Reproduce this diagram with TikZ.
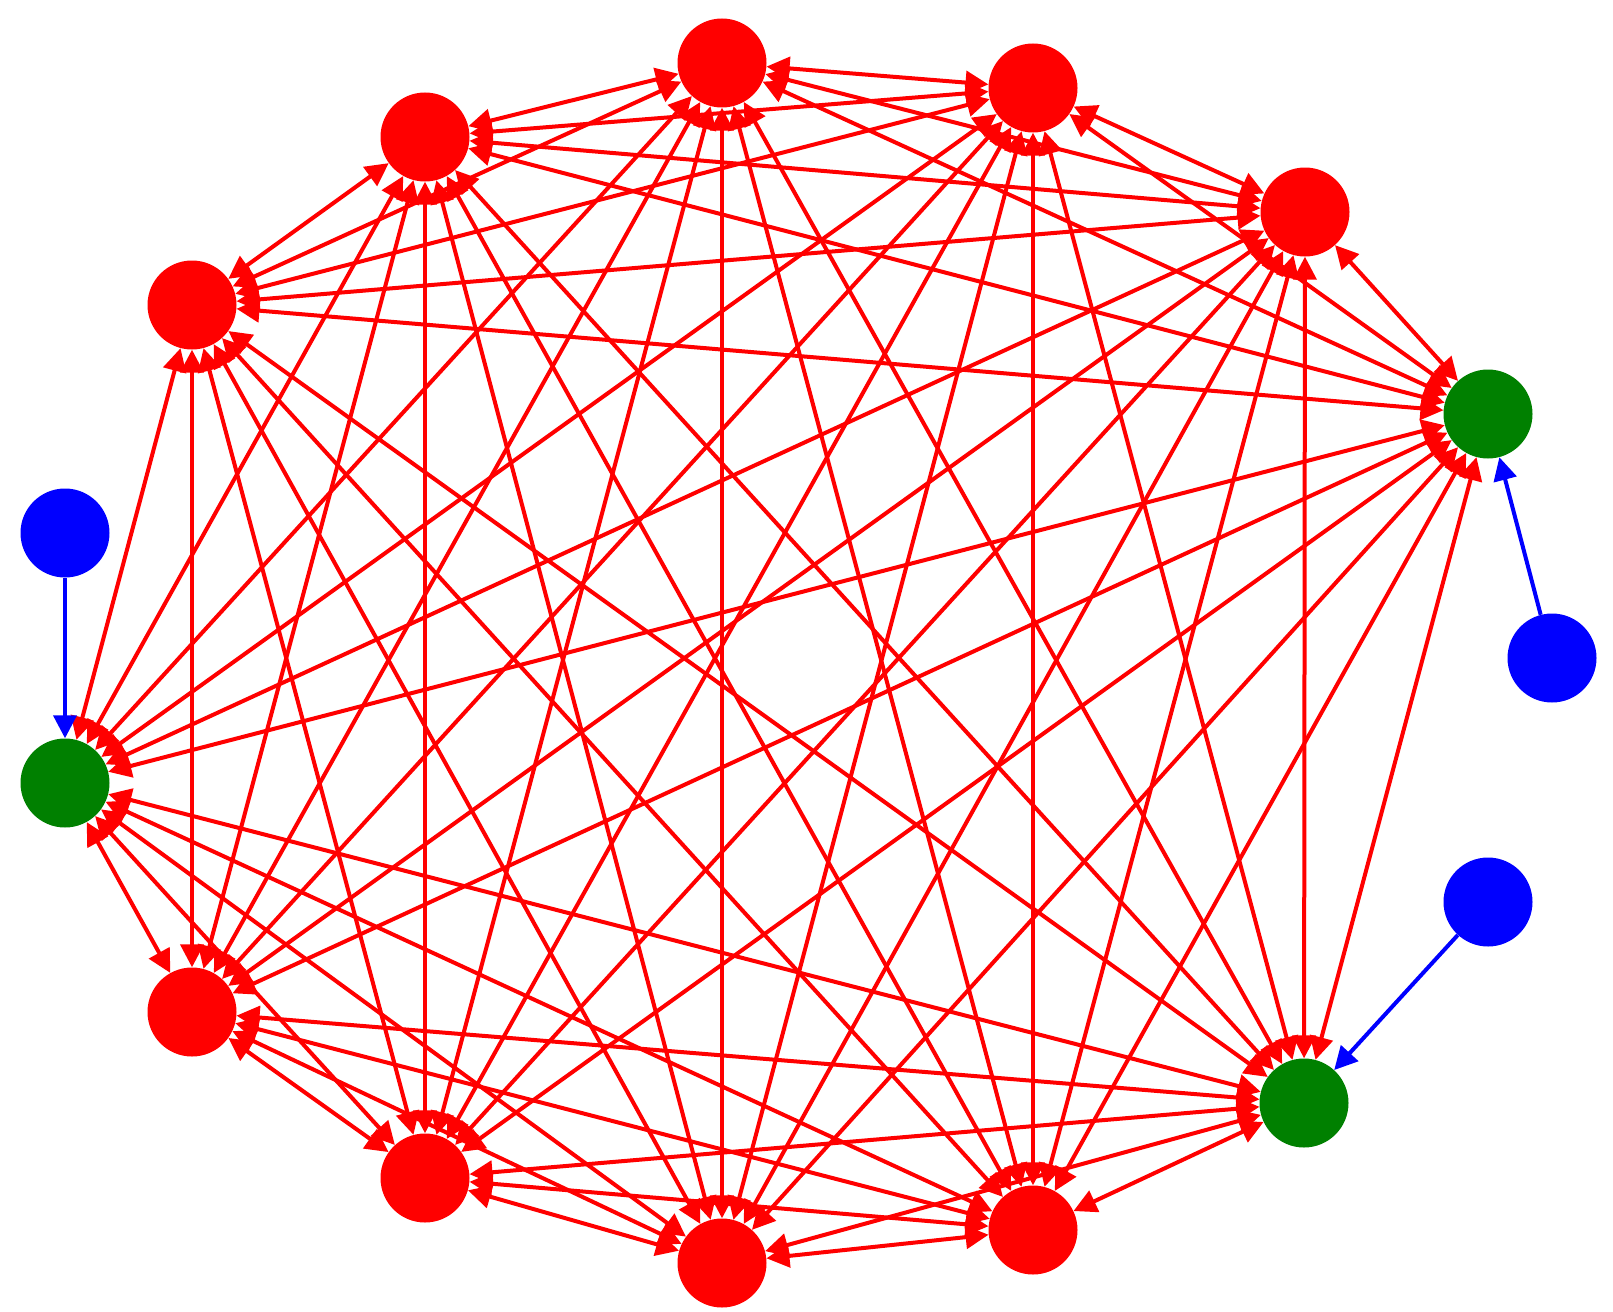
\documentclass[tikz,border=0pt]{standalone}
\usetikzlibrary{arrows.meta}
\pgfdeclarelayer{bg}
\pgfsetlayers{bg,main}
\definecolor{gnode}{RGB}{0,128,0}
\definecolor{rnode}{RGB}{255,0,0}
\definecolor{bnode}{RGB}{0,0,255}
\begin{document}
\begin{tikzpicture}[x=1pt,y=-1pt,
  vert/.style={circle,inner sep=0pt,minimum size=89pt,draw=none},
  rv/.style={vert,fill=rnode},
  gv/.style={vert,fill=gnode},
  bv/.style={vert,fill=bnode},
  redge/.style={draw=rnode,line width=4pt,{Triangle[length=23pt,width=23pt]}-{Triangle[length=23pt,width=23pt]}},
  bedge/.style={draw=bnode,line width=4pt,-{Triangle[length=23pt,width=23pt]}}]
\useasboundingbox (0,0) rectangle (1613,1311);
\node[rv] (n1) at (722,63) {};
\node[rv] (n2) at (1033,88) {};
\node[rv] (n3) at (1305,212) {};
\node[gv] (n4) at (1488,414) {};
\node[gv] (n5) at (1304,1103) {};
\node[rv] (n6) at (1033,1230) {};
\node[rv] (n7) at (722,1263) {};
\node[rv] (n8) at (425,1178) {};
\node[rv] (n9) at (192,1012) {};
\node[gv] (n10) at (65,783) {};
\node[rv] (n11) at (192,305) {};
\node[rv] (n12) at (425,137) {};
\node[bv] (b1) at (65,533) {};
\node[bv] (b2) at (1552,658) {};
\node[bv] (b3) at (1488,902) {};
\begin{pgfonlayer}{bg}
\foreach \i in {1,...,11} {
  \pgfmathtruncatemacro\nxt{\i+1}
  \foreach \j in {\nxt,...,12} {
    \draw[redge] (n\i) -- (n\j);
  }
}
\draw[bedge] (b1) -- (n10);
\draw[bedge] (b2) -- (n4);
\draw[bedge] (b3) -- (n5);
\end{pgfonlayer}
\end{tikzpicture}
\end{document}
